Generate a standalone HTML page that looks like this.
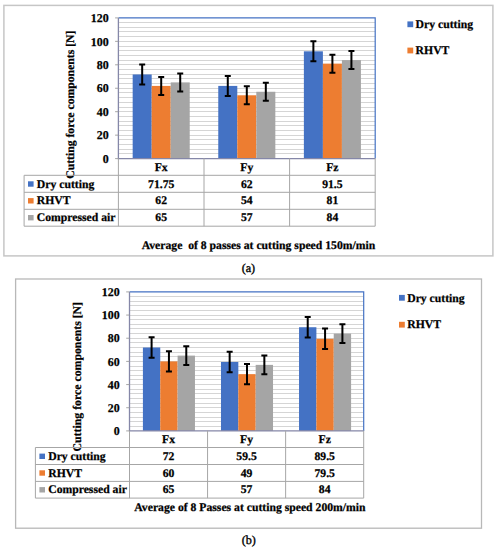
<!DOCTYPE html>
<html><head><meta charset="utf-8"><style>
html,body{margin:0;padding:0;background:#fff;}
body{width:499px;height:550px;overflow:hidden;}
svg{display:block;text-rendering:geometricPrecision;}
</style></head><body>
<svg width="499" height="550" viewBox="0 0 499 550">
<rect width="499" height="550" fill="#fff"/>
<rect x="3.9" y="5.4" width="489.0" height="250.5" fill="none" stroke="#C6C6C6" stroke-width="1.5"/>
<line x1="118.4" y1="153.50" x2="375.2" y2="153.50" stroke="#D5D5D5" stroke-width="1"/>
<line x1="118.4" y1="149.50" x2="375.2" y2="149.50" stroke="#D5D5D5" stroke-width="1"/>
<line x1="118.4" y1="144.50" x2="375.2" y2="144.50" stroke="#D5D5D5" stroke-width="1"/>
<line x1="118.4" y1="139.50" x2="375.2" y2="139.50" stroke="#D5D5D5" stroke-width="1"/>
<line x1="118.4" y1="135.50" x2="375.2" y2="135.50" stroke="#D5D5D5" stroke-width="1"/>
<line x1="118.4" y1="130.50" x2="375.2" y2="130.50" stroke="#D5D5D5" stroke-width="1"/>
<line x1="118.4" y1="125.50" x2="375.2" y2="125.50" stroke="#D5D5D5" stroke-width="1"/>
<line x1="118.4" y1="121.50" x2="375.2" y2="121.50" stroke="#D5D5D5" stroke-width="1"/>
<line x1="118.4" y1="116.50" x2="375.2" y2="116.50" stroke="#D5D5D5" stroke-width="1"/>
<line x1="118.4" y1="111.50" x2="375.2" y2="111.50" stroke="#D5D5D5" stroke-width="1"/>
<line x1="118.4" y1="107.50" x2="375.2" y2="107.50" stroke="#D5D5D5" stroke-width="1"/>
<line x1="118.4" y1="102.50" x2="375.2" y2="102.50" stroke="#D5D5D5" stroke-width="1"/>
<line x1="118.4" y1="97.50" x2="375.2" y2="97.50" stroke="#D5D5D5" stroke-width="1"/>
<line x1="118.4" y1="92.50" x2="375.2" y2="92.50" stroke="#D5D5D5" stroke-width="1"/>
<line x1="118.4" y1="88.50" x2="375.2" y2="88.50" stroke="#D5D5D5" stroke-width="1"/>
<line x1="118.4" y1="83.50" x2="375.2" y2="83.50" stroke="#D5D5D5" stroke-width="1"/>
<line x1="118.4" y1="78.50" x2="375.2" y2="78.50" stroke="#D5D5D5" stroke-width="1"/>
<line x1="118.4" y1="74.50" x2="375.2" y2="74.50" stroke="#D5D5D5" stroke-width="1"/>
<line x1="118.4" y1="69.50" x2="375.2" y2="69.50" stroke="#D5D5D5" stroke-width="1"/>
<line x1="118.4" y1="64.50" x2="375.2" y2="64.50" stroke="#D5D5D5" stroke-width="1"/>
<line x1="118.4" y1="60.50" x2="375.2" y2="60.50" stroke="#D5D5D5" stroke-width="1"/>
<line x1="118.4" y1="55.50" x2="375.2" y2="55.50" stroke="#D5D5D5" stroke-width="1"/>
<line x1="118.4" y1="50.50" x2="375.2" y2="50.50" stroke="#D5D5D5" stroke-width="1"/>
<line x1="118.4" y1="46.50" x2="375.2" y2="46.50" stroke="#D5D5D5" stroke-width="1"/>
<line x1="118.4" y1="41.50" x2="375.2" y2="41.50" stroke="#D5D5D5" stroke-width="1"/>
<line x1="118.4" y1="36.50" x2="375.2" y2="36.50" stroke="#D5D5D5" stroke-width="1"/>
<line x1="118.4" y1="31.50" x2="375.2" y2="31.50" stroke="#D5D5D5" stroke-width="1"/>
<line x1="118.4" y1="27.50" x2="375.2" y2="27.50" stroke="#D5D5D5" stroke-width="1"/>
<line x1="118.4" y1="22.50" x2="375.2" y2="22.50" stroke="#D5D5D5" stroke-width="1"/>
<rect x="132.67" y="74.47" width="19.02" height="84.13" fill="#4472C4"/>
<rect x="151.69" y="85.91" width="19.02" height="72.69" fill="#ED7D31"/>
<rect x="170.71" y="82.39" width="19.02" height="76.21" fill="#A5A5A5"/>
<rect x="218.27" y="85.91" width="19.02" height="72.69" fill="#4472C4"/>
<rect x="237.29" y="95.28" width="19.02" height="63.31" fill="#ED7D31"/>
<rect x="256.31" y="91.77" width="19.02" height="66.83" fill="#A5A5A5"/>
<rect x="303.87" y="51.32" width="19.02" height="107.28" fill="#4472C4"/>
<rect x="322.89" y="63.63" width="19.02" height="94.97" fill="#ED7D31"/>
<rect x="341.91" y="60.11" width="19.02" height="98.49" fill="#A5A5A5"/>
<path d="M142.18 64.47V84.47M139.18 64.47H145.18M139.18 84.47H145.18" stroke="#000" stroke-width="2" fill="none"/>
<path d="M161.20 76.91V94.91M158.20 76.91H164.20M158.20 94.91H164.20" stroke="#000" stroke-width="2" fill="none"/>
<path d="M180.22 73.39V91.39M177.22 73.39H183.22M177.22 91.39H183.22" stroke="#000" stroke-width="2" fill="none"/>
<path d="M227.78 75.91V95.91M224.78 75.91H230.78M224.78 95.91H230.78" stroke="#000" stroke-width="2" fill="none"/>
<path d="M246.80 86.28V104.28M243.80 86.28H249.80M243.80 104.28H249.80" stroke="#000" stroke-width="2" fill="none"/>
<path d="M265.82 82.77V100.77M262.82 82.77H268.82M262.82 100.77H268.82" stroke="#000" stroke-width="2" fill="none"/>
<path d="M313.38 41.32V61.32M310.38 41.32H316.38M310.38 61.32H316.38" stroke="#000" stroke-width="2" fill="none"/>
<path d="M332.40 54.63V72.63M329.40 54.63H335.40M329.40 72.63H335.40" stroke="#000" stroke-width="2" fill="none"/>
<path d="M351.42 51.11V69.11M348.42 51.11H354.42M348.42 69.11H354.42" stroke="#000" stroke-width="2" fill="none"/>
<path d="M118.4 17.9H375.2V158.6" stroke="#4472C4" stroke-width="1.2" fill="none"/>
<path d="M118.4 17.9V158.6H375.2" stroke="#8587A8" stroke-width="1.3" fill="none"/>
<line x1="115.10000000000001" y1="158.60" x2="118.4" y2="158.60" stroke="#9c9c9c" stroke-width="0.9"/>
<text x="108.6" y="162.80" text-anchor="end" font-family="Liberation Serif" font-weight="bold" stroke="#000" stroke-width="0.25" font-size="11.95">0</text>
<line x1="115.10000000000001" y1="135.15" x2="118.4" y2="135.15" stroke="#9c9c9c" stroke-width="0.9"/>
<text x="108.6" y="139.35" text-anchor="end" font-family="Liberation Serif" font-weight="bold" stroke="#000" stroke-width="0.25" font-size="11.95">20</text>
<line x1="115.10000000000001" y1="111.70" x2="118.4" y2="111.70" stroke="#9c9c9c" stroke-width="0.9"/>
<text x="108.6" y="115.90" text-anchor="end" font-family="Liberation Serif" font-weight="bold" stroke="#000" stroke-width="0.25" font-size="11.95">40</text>
<line x1="115.10000000000001" y1="88.25" x2="118.4" y2="88.25" stroke="#9c9c9c" stroke-width="0.9"/>
<text x="108.6" y="92.45" text-anchor="end" font-family="Liberation Serif" font-weight="bold" stroke="#000" stroke-width="0.25" font-size="11.95">60</text>
<line x1="115.10000000000001" y1="64.80" x2="118.4" y2="64.80" stroke="#9c9c9c" stroke-width="0.9"/>
<text x="108.6" y="69.00" text-anchor="end" font-family="Liberation Serif" font-weight="bold" stroke="#000" stroke-width="0.25" font-size="11.95">80</text>
<line x1="115.10000000000001" y1="41.35" x2="118.4" y2="41.35" stroke="#9c9c9c" stroke-width="0.9"/>
<text x="108.6" y="45.55" text-anchor="end" font-family="Liberation Serif" font-weight="bold" stroke="#000" stroke-width="0.25" font-size="11.95">100</text>
<line x1="115.10000000000001" y1="17.90" x2="118.4" y2="17.90" stroke="#9c9c9c" stroke-width="0.9"/>
<text x="108.6" y="22.10" text-anchor="end" font-family="Liberation Serif" font-weight="bold" stroke="#000" stroke-width="0.25" font-size="11.95">120</text>
<text transform="translate(73.6,104.7) rotate(-90)" text-anchor="middle" font-family="Liberation Serif" font-weight="bold" stroke="#000" stroke-width="0.25" font-size="11.7">Cutting force components [N]</text>
<line x1="24.1" y1="175.3" x2="375.2" y2="175.3" stroke="#A6A6A6" stroke-width="1"/>
<line x1="24.1" y1="192.3" x2="375.2" y2="192.3" stroke="#A6A6A6" stroke-width="1"/>
<line x1="24.1" y1="209.3" x2="375.2" y2="209.3" stroke="#A6A6A6" stroke-width="1"/>
<line x1="24.1" y1="226.2" x2="375.2" y2="226.2" stroke="#A6A6A6" stroke-width="1"/>
<line x1="118.40" y1="158.6" x2="118.40" y2="226.2" stroke="#A6A6A6" stroke-width="1"/>
<line x1="204.00" y1="158.3" x2="204.00" y2="226.2" stroke="#A6A6A6" stroke-width="1"/>
<line x1="289.60" y1="158.3" x2="289.60" y2="226.2" stroke="#A6A6A6" stroke-width="1"/>
<line x1="375.20" y1="158.3" x2="375.20" y2="226.2" stroke="#A6A6A6" stroke-width="1"/>
<line x1="24.1" y1="175.3" x2="24.1" y2="226.2" stroke="#A6A6A6" stroke-width="1"/>
<text x="161.20" y="170.8" text-anchor="middle" font-family="Liberation Serif" font-weight="bold" stroke="#000" stroke-width="0.25" font-size="11.7">Fx</text>
<text x="246.80" y="170.8" text-anchor="middle" font-family="Liberation Serif" font-weight="bold" stroke="#000" stroke-width="0.25" font-size="11.7">Fy</text>
<text x="332.40" y="170.8" text-anchor="middle" font-family="Liberation Serif" font-weight="bold" stroke="#000" stroke-width="0.25" font-size="11.7">Fz</text>
<text x="161.20" y="187.6" text-anchor="middle" font-family="Liberation Serif" font-weight="bold" stroke="#000" stroke-width="0.25" font-size="11.7">71.75</text>
<text x="246.80" y="187.6" text-anchor="middle" font-family="Liberation Serif" font-weight="bold" stroke="#000" stroke-width="0.25" font-size="11.7">62</text>
<text x="332.40" y="187.6" text-anchor="middle" font-family="Liberation Serif" font-weight="bold" stroke="#000" stroke-width="0.25" font-size="11.7">91.5</text>
<rect x="28" y="181.30" width="5.6" height="5.4" fill="#4472C4"/>
<text x="36.8" y="187.6" font-family="Liberation Serif" font-weight="bold" stroke="#000" stroke-width="0.25" font-size="11.7">Dry cutting</text>
<text x="161.20" y="204.4" text-anchor="middle" font-family="Liberation Serif" font-weight="bold" stroke="#000" stroke-width="0.25" font-size="11.7">62</text>
<text x="246.80" y="204.4" text-anchor="middle" font-family="Liberation Serif" font-weight="bold" stroke="#000" stroke-width="0.25" font-size="11.7">54</text>
<text x="332.40" y="204.4" text-anchor="middle" font-family="Liberation Serif" font-weight="bold" stroke="#000" stroke-width="0.25" font-size="11.7">81</text>
<rect x="28" y="198.10" width="5.6" height="5.4" fill="#ED7D31"/>
<text x="36.8" y="204.4" font-family="Liberation Serif" font-weight="bold" stroke="#000" stroke-width="0.25" font-size="11.7">RHVT</text>
<text x="161.20" y="221.3" text-anchor="middle" font-family="Liberation Serif" font-weight="bold" stroke="#000" stroke-width="0.25" font-size="11.7">65</text>
<text x="246.80" y="221.3" text-anchor="middle" font-family="Liberation Serif" font-weight="bold" stroke="#000" stroke-width="0.25" font-size="11.7">57</text>
<text x="332.40" y="221.3" text-anchor="middle" font-family="Liberation Serif" font-weight="bold" stroke="#000" stroke-width="0.25" font-size="11.7">84</text>
<rect x="28" y="215.00" width="5.6" height="5.4" fill="#A5A5A5"/>
<text x="36.8" y="221.3" font-family="Liberation Serif" font-weight="bold" stroke="#000" stroke-width="0.25" font-size="11.7">Compressed air</text>
<rect x="407.4" y="21.40" width="5.8" height="5.8" fill="#4472C4"/>
<text x="415.59999999999997" y="28.0" font-family="Liberation Serif" font-weight="bold" stroke="#000" stroke-width="0.25" font-size="11.7">Dry cutting</text>
<rect x="407.4" y="47.60" width="5.8" height="5.8" fill="#ED7D31"/>
<text x="415.59999999999997" y="54.2" font-family="Liberation Serif" font-weight="bold" stroke="#000" stroke-width="0.25" font-size="11.7">RHVT</text>
<text x="141.7" y="248.6" font-family="Liberation Serif" font-weight="bold" stroke="#000" stroke-width="0.25" font-size="11.7" xml:space="preserve">Average  of 8 passes at cutting speed 150m/min</text>
<rect x="15.6" y="279" width="465.9" height="249.20000000000005" fill="none" stroke="#B8B8B8" stroke-width="1.3"/>
<line x1="129.5" y1="426.50" x2="363.7" y2="426.50" stroke="#D5D5D5" stroke-width="1"/>
<line x1="129.5" y1="421.50" x2="363.7" y2="421.50" stroke="#D5D5D5" stroke-width="1"/>
<line x1="129.5" y1="417.50" x2="363.7" y2="417.50" stroke="#D5D5D5" stroke-width="1"/>
<line x1="129.5" y1="412.50" x2="363.7" y2="412.50" stroke="#D5D5D5" stroke-width="1"/>
<line x1="129.5" y1="407.50" x2="363.7" y2="407.50" stroke="#D5D5D5" stroke-width="1"/>
<line x1="129.5" y1="403.50" x2="363.7" y2="403.50" stroke="#D5D5D5" stroke-width="1"/>
<line x1="129.5" y1="398.50" x2="363.7" y2="398.50" stroke="#D5D5D5" stroke-width="1"/>
<line x1="129.5" y1="393.50" x2="363.7" y2="393.50" stroke="#D5D5D5" stroke-width="1"/>
<line x1="129.5" y1="389.50" x2="363.7" y2="389.50" stroke="#D5D5D5" stroke-width="1"/>
<line x1="129.5" y1="384.50" x2="363.7" y2="384.50" stroke="#D5D5D5" stroke-width="1"/>
<line x1="129.5" y1="379.50" x2="363.7" y2="379.50" stroke="#D5D5D5" stroke-width="1"/>
<line x1="129.5" y1="375.50" x2="363.7" y2="375.50" stroke="#D5D5D5" stroke-width="1"/>
<line x1="129.5" y1="370.50" x2="363.7" y2="370.50" stroke="#D5D5D5" stroke-width="1"/>
<line x1="129.5" y1="366.50" x2="363.7" y2="366.50" stroke="#D5D5D5" stroke-width="1"/>
<line x1="129.5" y1="361.50" x2="363.7" y2="361.50" stroke="#D5D5D5" stroke-width="1"/>
<line x1="129.5" y1="356.50" x2="363.7" y2="356.50" stroke="#D5D5D5" stroke-width="1"/>
<line x1="129.5" y1="352.50" x2="363.7" y2="352.50" stroke="#D5D5D5" stroke-width="1"/>
<line x1="129.5" y1="347.50" x2="363.7" y2="347.50" stroke="#D5D5D5" stroke-width="1"/>
<line x1="129.5" y1="342.50" x2="363.7" y2="342.50" stroke="#D5D5D5" stroke-width="1"/>
<line x1="129.5" y1="338.50" x2="363.7" y2="338.50" stroke="#D5D5D5" stroke-width="1"/>
<line x1="129.5" y1="333.50" x2="363.7" y2="333.50" stroke="#D5D5D5" stroke-width="1"/>
<line x1="129.5" y1="328.50" x2="363.7" y2="328.50" stroke="#D5D5D5" stroke-width="1"/>
<line x1="129.5" y1="324.50" x2="363.7" y2="324.50" stroke="#D5D5D5" stroke-width="1"/>
<line x1="129.5" y1="319.50" x2="363.7" y2="319.50" stroke="#D5D5D5" stroke-width="1"/>
<line x1="129.5" y1="315.50" x2="363.7" y2="315.50" stroke="#D5D5D5" stroke-width="1"/>
<line x1="129.5" y1="310.50" x2="363.7" y2="310.50" stroke="#D5D5D5" stroke-width="1"/>
<line x1="129.5" y1="305.50" x2="363.7" y2="305.50" stroke="#D5D5D5" stroke-width="1"/>
<line x1="129.5" y1="301.50" x2="363.7" y2="301.50" stroke="#D5D5D5" stroke-width="1"/>
<line x1="129.5" y1="296.50" x2="363.7" y2="296.50" stroke="#D5D5D5" stroke-width="1"/>
<rect x="142.91" y="347.50" width="17.35" height="83.40" fill="#4472C4"/>
<rect x="160.26" y="361.40" width="17.35" height="69.50" fill="#ED7D31"/>
<rect x="177.61" y="355.61" width="17.35" height="75.29" fill="#A5A5A5"/>
<rect x="220.98" y="361.98" width="17.35" height="68.92" fill="#4472C4"/>
<rect x="238.33" y="374.14" width="17.35" height="56.76" fill="#ED7D31"/>
<rect x="255.67" y="364.88" width="17.35" height="66.03" fill="#A5A5A5"/>
<rect x="299.04" y="327.23" width="17.35" height="103.67" fill="#4472C4"/>
<rect x="316.39" y="338.81" width="17.35" height="92.09" fill="#ED7D31"/>
<rect x="333.74" y="333.60" width="17.35" height="97.30" fill="#A5A5A5"/>
<path d="M151.59 337.30V357.70M148.59 337.30H154.59M148.59 357.70H154.59" stroke="#000" stroke-width="2" fill="none"/>
<path d="M168.93 351.20V371.60M165.93 351.20H171.93M165.93 371.60H171.93" stroke="#000" stroke-width="2" fill="none"/>
<path d="M186.28 346.31V364.91M183.28 346.31H189.28M183.28 364.91H189.28" stroke="#000" stroke-width="2" fill="none"/>
<path d="M229.65 351.78V372.18M226.65 351.78H232.65M226.65 372.18H232.65" stroke="#000" stroke-width="2" fill="none"/>
<path d="M247.00 363.94V384.34M244.00 363.94H250.00M244.00 384.34H250.00" stroke="#000" stroke-width="2" fill="none"/>
<path d="M264.35 355.57V374.18M261.35 355.57H267.35M261.35 374.18H267.35" stroke="#000" stroke-width="2" fill="none"/>
<path d="M307.72 317.03V337.43M304.72 317.03H310.72M304.72 337.43H310.72" stroke="#000" stroke-width="2" fill="none"/>
<path d="M325.07 328.61V349.01M322.07 328.61H328.07M322.07 349.01H328.07" stroke="#000" stroke-width="2" fill="none"/>
<path d="M342.41 324.30V342.90M339.41 324.30H345.41M339.41 342.90H345.41" stroke="#000" stroke-width="2" fill="none"/>
<path d="M129.5 291.9H363.7V430.9" stroke="#4472C4" stroke-width="1.2" fill="none"/>
<path d="M129.5 291.9V430.9H363.7" stroke="#8587A8" stroke-width="1.3" fill="none"/>
<line x1="126.2" y1="430.90" x2="129.5" y2="430.90" stroke="#9c9c9c" stroke-width="0.9"/>
<text x="119.6" y="435.10" text-anchor="end" font-family="Liberation Serif" font-weight="bold" stroke="#000" stroke-width="0.25" font-size="11.9">0</text>
<line x1="126.2" y1="407.73" x2="129.5" y2="407.73" stroke="#9c9c9c" stroke-width="0.9"/>
<text x="119.6" y="411.93" text-anchor="end" font-family="Liberation Serif" font-weight="bold" stroke="#000" stroke-width="0.25" font-size="11.9">20</text>
<line x1="126.2" y1="384.57" x2="129.5" y2="384.57" stroke="#9c9c9c" stroke-width="0.9"/>
<text x="119.6" y="388.77" text-anchor="end" font-family="Liberation Serif" font-weight="bold" stroke="#000" stroke-width="0.25" font-size="11.9">40</text>
<line x1="126.2" y1="361.40" x2="129.5" y2="361.40" stroke="#9c9c9c" stroke-width="0.9"/>
<text x="119.6" y="365.60" text-anchor="end" font-family="Liberation Serif" font-weight="bold" stroke="#000" stroke-width="0.25" font-size="11.9">60</text>
<line x1="126.2" y1="338.23" x2="129.5" y2="338.23" stroke="#9c9c9c" stroke-width="0.9"/>
<text x="119.6" y="342.43" text-anchor="end" font-family="Liberation Serif" font-weight="bold" stroke="#000" stroke-width="0.25" font-size="11.9">80</text>
<line x1="126.2" y1="315.07" x2="129.5" y2="315.07" stroke="#9c9c9c" stroke-width="0.9"/>
<text x="119.6" y="319.27" text-anchor="end" font-family="Liberation Serif" font-weight="bold" stroke="#000" stroke-width="0.25" font-size="11.9">100</text>
<line x1="126.2" y1="291.90" x2="129.5" y2="291.90" stroke="#9c9c9c" stroke-width="0.9"/>
<text x="119.6" y="296.10" text-anchor="end" font-family="Liberation Serif" font-weight="bold" stroke="#000" stroke-width="0.25" font-size="11.9">120</text>
<text transform="translate(80.8,376.7) rotate(-90)" text-anchor="middle" font-family="Liberation Serif" font-weight="bold" stroke="#000" stroke-width="0.25" font-size="11.8">Cutting force components [N]</text>
<line x1="35.4" y1="447.5" x2="363.7" y2="447.5" stroke="#A6A6A6" stroke-width="1"/>
<line x1="35.4" y1="464.5" x2="363.7" y2="464.5" stroke="#A6A6A6" stroke-width="1"/>
<line x1="35.4" y1="481.4" x2="363.7" y2="481.4" stroke="#A6A6A6" stroke-width="1"/>
<line x1="35.4" y1="498.1" x2="363.7" y2="498.1" stroke="#A6A6A6" stroke-width="1"/>
<line x1="129.50" y1="430.9" x2="129.50" y2="498.1" stroke="#A6A6A6" stroke-width="1"/>
<line x1="207.57" y1="430.6" x2="207.57" y2="498.1" stroke="#A6A6A6" stroke-width="1"/>
<line x1="285.63" y1="430.6" x2="285.63" y2="498.1" stroke="#A6A6A6" stroke-width="1"/>
<line x1="363.70" y1="430.6" x2="363.70" y2="498.1" stroke="#A6A6A6" stroke-width="1"/>
<line x1="35.4" y1="447.5" x2="35.4" y2="498.1" stroke="#A6A6A6" stroke-width="1"/>
<text x="168.53" y="443.1" text-anchor="middle" font-family="Liberation Serif" font-weight="bold" stroke="#000" stroke-width="0.25" font-size="11.7">Fx</text>
<text x="246.60" y="443.1" text-anchor="middle" font-family="Liberation Serif" font-weight="bold" stroke="#000" stroke-width="0.25" font-size="11.7">Fy</text>
<text x="324.67" y="443.1" text-anchor="middle" font-family="Liberation Serif" font-weight="bold" stroke="#000" stroke-width="0.25" font-size="11.7">Fz</text>
<text x="168.53" y="459.9" text-anchor="middle" font-family="Liberation Serif" font-weight="bold" stroke="#000" stroke-width="0.25" font-size="11.7">72</text>
<text x="246.60" y="459.9" text-anchor="middle" font-family="Liberation Serif" font-weight="bold" stroke="#000" stroke-width="0.25" font-size="11.7">59.5</text>
<text x="324.67" y="459.9" text-anchor="middle" font-family="Liberation Serif" font-weight="bold" stroke="#000" stroke-width="0.25" font-size="11.7">89.5</text>
<rect x="39.4" y="453.60" width="5.6" height="5.4" fill="#4472C4"/>
<text x="48.2" y="459.9" font-family="Liberation Serif" font-weight="bold" stroke="#000" stroke-width="0.25" font-size="11.7">Dry cutting</text>
<text x="168.53" y="476.6" text-anchor="middle" font-family="Liberation Serif" font-weight="bold" stroke="#000" stroke-width="0.25" font-size="11.7">60</text>
<text x="246.60" y="476.6" text-anchor="middle" font-family="Liberation Serif" font-weight="bold" stroke="#000" stroke-width="0.25" font-size="11.7">49</text>
<text x="324.67" y="476.6" text-anchor="middle" font-family="Liberation Serif" font-weight="bold" stroke="#000" stroke-width="0.25" font-size="11.7">79.5</text>
<rect x="39.4" y="470.30" width="5.6" height="5.4" fill="#ED7D31"/>
<text x="48.2" y="476.6" font-family="Liberation Serif" font-weight="bold" stroke="#000" stroke-width="0.25" font-size="11.7">RHVT</text>
<text x="168.53" y="493.4" text-anchor="middle" font-family="Liberation Serif" font-weight="bold" stroke="#000" stroke-width="0.25" font-size="11.7">65</text>
<text x="246.60" y="493.4" text-anchor="middle" font-family="Liberation Serif" font-weight="bold" stroke="#000" stroke-width="0.25" font-size="11.7">57</text>
<text x="324.67" y="493.4" text-anchor="middle" font-family="Liberation Serif" font-weight="bold" stroke="#000" stroke-width="0.25" font-size="11.7">84</text>
<rect x="39.4" y="487.10" width="5.6" height="5.4" fill="#A5A5A5"/>
<text x="48.2" y="493.4" font-family="Liberation Serif" font-weight="bold" stroke="#000" stroke-width="0.25" font-size="11.7">Compressed air</text>
<rect x="399" y="294.90" width="5.8" height="5.8" fill="#4472C4"/>
<text x="407.2" y="301.5" font-family="Liberation Serif" font-weight="bold" stroke="#000" stroke-width="0.25" font-size="11.7">Dry cutting</text>
<rect x="399" y="321.80" width="5.8" height="5.8" fill="#ED7D31"/>
<text x="407.2" y="328.4" font-family="Liberation Serif" font-weight="bold" stroke="#000" stroke-width="0.25" font-size="11.7">RHVT</text>
<text x="134.3" y="511.2" font-family="Liberation Serif" font-weight="bold" stroke="#000" stroke-width="0.25" font-size="11.7" xml:space="preserve">Average of 8 Passes at cutting speed 200m/min</text>
<text x="248.4" y="272.2" text-anchor="middle" font-family="Liberation Serif" font-size="12.2" stroke="#000" stroke-width="0.35">(a)</text>
<text x="248.8" y="543.9" text-anchor="middle" font-family="Liberation Serif" font-size="12.2" stroke="#000" stroke-width="0.35">(b)</text>
</svg>
</body></html>
